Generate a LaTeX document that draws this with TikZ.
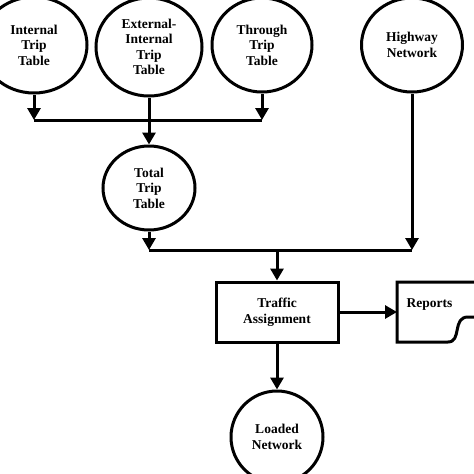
\documentclass[tikz,border=0pt]{standalone}
\usepackage{fontspec}
\setmainfont{Liberation Serif}
\usetikzlibrary{shapes.geometric, arrows.meta, positioning, calc}

\begin{document}
\begin{tikzpicture}[x=1pt, y=-1pt,
    oval/.style={ellipse, draw, line width=3pt, align=center, inner sep=0pt,
                 font=\fontsize{13.5}{15.5}\selectfont\bfseries},
    box/.style={rectangle, draw, line width=3pt, align=center,
                minimum width=122pt, minimum height=60pt,
                font=\fontsize{13.5}{15.5}\selectfont\bfseries},
    arr/.style={-{Triangle[length=12pt, width=13pt]}, line width=3pt},
    link/.style={line width=3pt}]
    \useasboundingbox (0,0) rectangle (474,474);

    % Inputs
    \node[oval, minimum width=106pt, minimum height=96pt] (intl) at (34,45) {Internal\\Trip\\Table};
    \node[oval, minimum width=106pt, minimum height=98pt] (extint) at (149,47) {External-\\Internal\\Trip\\Table};
    \node[oval, minimum width=100pt, minimum height=94pt] (thru) at (262,45) {Through\\Trip\\Table};
    \node[oval, minimum width=101pt, minimum height=94pt] (hwy) at (412,45) {Highway\\Network};

    % Middle
    \node[oval, minimum width=92pt, minimum height=84pt] (total) at (149,188) {Total\\Trip\\Table};
    \node[box] (traffic) at (277,312) {Traffic\\Assignment};
    \node[oval, minimum width=92pt, minimum height=92pt] (loaded) at (277,437) {Loaded\\Network};

    % Reports (document shape)
    \coordinate (rep) at (397,312);
    \draw[link] (490,282) -- (397,282) -- (397,342) -- (448,342)
        .. controls (462,342) and (452,317) .. (468,317) -- (490,317);
    \node[font=\fontsize{13.5}{15.5}\selectfont\bfseries, anchor=west] (reports) at (403,305) {Reports};

    % Junctions
    \coordinate (j1) at (0,120);
    \coordinate (j2) at (0,250);

    % Arrows
    \draw[arr] (intl) -- (intl |- j1);
    \draw[arr] (thru) -- (thru |- j1);
    \draw[link] (intl |- j1) -- (thru |- j1);
    \draw[arr] (extint) -- (total);

    \draw[arr] (total) -- (total |- j2);
    \draw[arr] (hwy) -- (hwy |- j2);
    \draw[link] (total |- j2) -- (hwy |- j2);
    \draw[arr] (traffic |- j2) -- (traffic);

    \draw[arr] (traffic) -- (rep);
    \draw[arr] (traffic) -- (loaded);
\end{tikzpicture}
\end{document}
